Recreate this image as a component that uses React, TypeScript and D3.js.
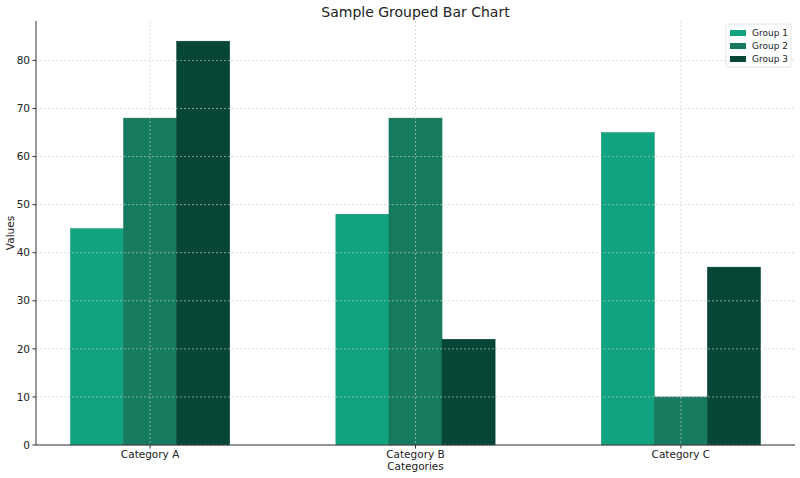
import React from "react";
import * as d3 from "d3";

const categories = ["Category A", "Category B", "Category C"];
const groups = ["Group 1", "Group 2", "Group 3"];
const group1 = [45, 48, 65];
const group2 = [68, 68, 10];
const group3 = [84, 22, 37];
const colors = ["#11a37f", "#167a5f", "#054636"];
const yTicks = [0, 10, 20, 30, 40, 50, 60, 70, 80];

export default function App() {
  const W = 800, H = 478;
  const L = 36, R = 795, T = 21, B = 445;
  const series = [group1, group2, group3];
  const bw = 0.2;
  const x = d3.scaleLinear().domain([-0.43, 2.43]).range([L, R]);
  const y = d3.scaleLinear().domain([0, 88.2]).range([B, T]);
  const font = "DejaVu Sans, sans-serif";
  return (
    <svg width={W} height={H} style={{ position: "absolute", left: 0, top: 0 }} fontFamily={font}>
      <rect width={W} height={H} fill="white" />
      {series.map((vals, gi) =>
        vals.map((v, ci) => {
          const cx = ci + (gi - 1) * bw;
          const x0 = x(cx - bw / 2), x1 = x(cx + bw / 2);
          return (
            <rect key={`${gi}-${ci}`} x={x0} y={y(v)} width={x1 - x0} height={y(0) - y(v)}
              fill={colors[gi]} stroke={d3.color(colors[gi])!.darker(0.3).toString()} strokeWidth={0.5} />
          );
        })
      )}
      {yTicks.map((t) => (
        <line key={t} x1={L} x2={R} y1={y(t)} y2={y(t)} stroke="#ccc" strokeWidth={0.8} strokeDasharray="2,2" opacity={0.8} />
      ))}
      {categories.map((c, i) => (
        <line key={c} x1={x(i)} x2={x(i)} y1={T} y2={B} stroke="#ccc" strokeWidth={0.8} strokeDasharray="2,2" opacity={0.8} />
      ))}
      <line x1={L} x2={L} y1={T} y2={B} stroke="#333" strokeWidth={1} />
      <line x1={L} x2={R} y1={B} y2={B} stroke="#333" strokeWidth={1} />
      {yTicks.map((t) => (
        <g key={t}>
          <line x1={L - 3.5} x2={L} y1={y(t)} y2={y(t)} stroke="#333" />
          <text x={L - 6} y={y(t)} dy="0.35em" textAnchor="end" fontSize={10.5} fill="#222">{t}</text>
        </g>
      ))}
      {categories.map((c, i) => (
        <g key={c}>
          <line x1={x(i)} x2={x(i)} y1={B} y2={B + 3.5} stroke="#333" />
          <text x={x(i)} y={B + 13} textAnchor="middle" fontSize={10.5} fill="#222">{c}</text>
        </g>
      ))}
      <text x={(L + R) / 2} y={B + 25} textAnchor="middle" fontSize={10.5} fill="#222">Categories</text>
      <text transform={`translate(14,${(T + B) / 2}) rotate(-90)`} textAnchor="middle" fontSize={10.5} fill="#222">Values</text>
      <text x={(L + R) / 2} y={T - 4} textAnchor="middle" fontSize={14} fill="#222">Sample Grouped Bar Chart</text>
      <g>
        <rect x={726} y={24} width={65} height={43} fill="white" stroke="#ddd" strokeWidth={0.8} rx={2} />
        {groups.map((g, i) => (
          <g key={g}>
            <rect x={730} y={30 + i * 13} width={16} height={6} fill={colors[i]} />
            <text x={752} y={33 + i * 13} dy="0.35em" fontSize={9} fill="#222">{g}</text>
          </g>
        ))}
      </g>
    </svg>
  );
}
